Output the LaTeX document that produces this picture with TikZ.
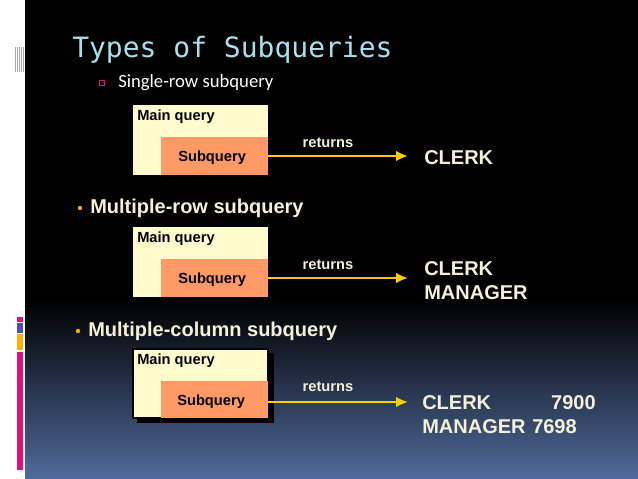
\documentclass[tikz,border=0pt]{standalone}
\usetikzlibrary{arrows.meta}
\usepackage{fontspec}
\setmainfont{Liberation Sans}
\newfontfamily\titlefont{DejaVu Sans Mono}
\newfontfamily\bodyfont{Carlito}
\definecolor{cream}{HTML}{FFFBCC}
\definecolor{salmon}{HTML}{FF9966}
\definecolor{ttl}{HTML}{A9E0EF}
\definecolor{arr}{HTML}{FFCC00}
\definecolor{txt}{HTML}{F5F0D8}
\definecolor{botblue}{HTML}{4F6A9A}
\begin{document}
\begin{tikzpicture}[x=0.75pt,y=-0.75pt,
  mainbox/.style={fill=cream,draw=none},
  subbox/.style={fill=salmon,draw=none},
  lbl/.style={font=\bfseries\fontsize{11}{13}\selectfont,text=black,inner sep=0pt,anchor=west},
  retlbl/.style={font=\bfseries\fontsize{11}{13}\selectfont,text=txt,inner sep=0pt},
  res/.style={font=\bfseries\fontsize{15}{18}\selectfont,text=txt,inner sep=0pt,anchor=west,align=left},
  head/.style={font=\bfseries\fontsize{15}{18}\selectfont,text=txt,inner sep=0pt,anchor=west},
  conn/.style={draw=arr,line width=2pt,-{Latex[length=9pt,width=8pt]}}]
\useasboundingbox (0,0) rectangle (638,478);
\fill[white] (0,0) rectangle (25,478);
\fill[black] (25,0) rectangle (638,300);
\shade[top color=black,bottom color=botblue] (25,300) rectangle (638,478);
% left decorations
\foreach \xx in {15,17,19,21,23} \fill[gray!70] (\xx,47) rectangle (\xx+1,72);
\fill[magenta!80!purple] (17,317) rectangle (23,322);
\fill[gray!60!blue] (17,323) rectangle (23,333);
\fill[orange!60!yellow] (17,334) rectangle (23,350);
\fill[magenta!80!purple] (17,352) rectangle (23,470);
% title
\node[font=\titlefont\fontsize{21}{24}\selectfont,text=ttl,anchor=west,inner sep=0pt] (title) at (72,50) {Types of Subqueries};
\draw[magenta!70!purple,line width=0.6pt] (99,80) rectangle (104,85);
\node[font=\bodyfont\fontsize{14}{16}\selectfont,text=white,anchor=west,inner sep=0pt] (h1) at (118,83) {Single-row subquery};
\fill[orange!70!yellow] (80,208) circle (2.2);
\node[head] (h2) at (90,208) {Multiple-row subquery};
\fill[orange!70!yellow] (78,331) circle (2.2);
\node[head] (h3) at (88,331) {Multiple-column subquery};
% box 1
\fill[mainbox] (133,105) rectangle (268,175);
\fill[subbox] (161,137) rectangle (268,175);
\node[lbl] (m1) at (137,117) {Main query};
\node[lbl] (s1) at (178,158) {Subquery};
\coordinate (a1) at (268,156);
\node[res] (r1) at (424,158) {CLERK};
\draw[conn] (a1) -- (408,156);
\node[retlbl] (t1) at (328,143) {returns};
% box 2
\fill[mainbox] (133,227) rectangle (268,297);
\fill[subbox] (161,259) rectangle (268,297);
\node[lbl] (m2) at (137,239) {Main query};
\node[lbl] (s2) at (178,280) {Subquery};
\coordinate (a2) at (268,278);
\node[res] (r2) at (424,281) {CLERK\\MANAGER};
\draw[conn] (a2) -- (408,278);
\node[retlbl] (t2) at (328,265) {returns};
% box 3
\fill[black] (137,353) rectangle (274,423);
\fill[mainbox,draw=black,line width=0.8pt] (133,349) rectangle (268,418);
\fill[subbox] (161,381) rectangle (267.5,417.5);
\node[lbl] (m3) at (137,361) {Main query};
\node[lbl] (s3) at (177,402) {Subquery};
\coordinate (a3) at (268,402);
\node[res] (r3) at (422,415) {CLERK\hspace{45pt}7900\\MANAGER\hspace{5pt}7698};
\draw[conn] (a3) -- (408,402);
\node[retlbl] (t3) at (328,387) {returns};
\end{tikzpicture}
\end{document}
